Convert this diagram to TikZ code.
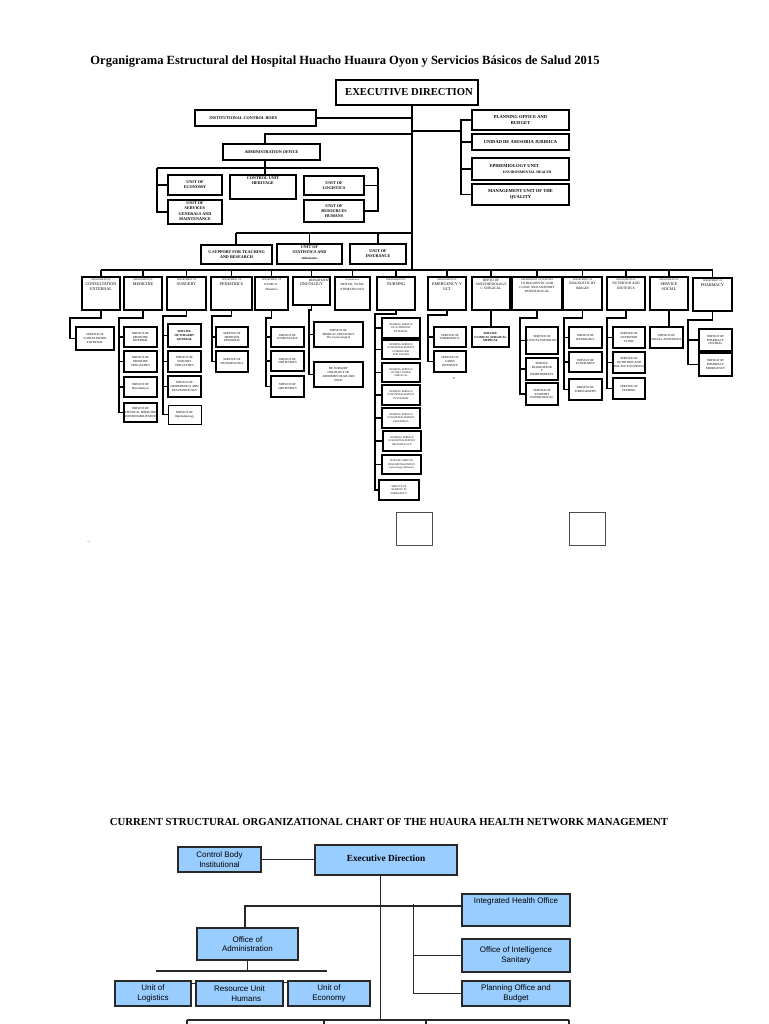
\documentclass[tikz,border=0pt]{standalone}
\usepackage{fontspec}
\setmainfont{Liberation Serif}
\newfontfamily\arialf{Liberation Sans}
\newcommand\fsz[2]{\fontsize{#1pt}{#2pt}\selectfont}
\definecolor{bluefill}{RGB}{153,204,255}
\definecolor{bline}{RGB}{40,40,40}
\tikzset{
  box/.style={draw=black, line width=0.95pt, inner sep=0pt},
  ebox/.style={draw=black!70, line width=0.6pt, inner sep=0pt},
  bbox/.style={draw=bline, line width=0.8pt, fill=bluefill, inner sep=0pt},
  lbl/.style={align=center, inner sep=0pt, font=\fsz{2.3}{2.8}},
  lbltop/.style={anchor=north, yshift=\bh*0.5pt-1.3pt},
  fA/.style={font=\bfseries\fsz{3.1}{3.9}},
  fR/.style={font=\bfseries\fsz{3.4}{4.4}},
  fD/.style={font=\fsz{3.1}{3.6}, lbltop},
  fS/.style={font=\fsz{2.3}{2.8}},
  fN/.style={font=\fsz{2.0}{2.5}},
  fB/.style={font=\arialf\fsz{6}{7.2}},
  con/.style={draw=black, line width=0.95pt},
  con2/.style={draw=bline, line width=0.8pt},
}
% [label opts]{box style}{name}{x1}{y1}{x2}{y2}{text}
\newcommand\bx[8][]{%
  \pgfmathsetmacro\bw{(#6-#4)*0.75}%
  \pgfmathsetmacro\bh{(#7-#5)*0.75}%
  \node[#2,minimum width=\bw pt,minimum height=\bh pt] (#3) at ({(#4+#6)/2},{(#5+#7)/2}) {};%
  \node[lbl,#1] (#3-t) at (#3.center) {#8};}
\newcommand\dep{{\fsz{1.8}{2.4}DEPARTMENT OF}}
\begin{document}
\begin{tikzpicture}[x=0.75pt,y=-0.75pt]
\fill[white] (0,0) rectangle (768,1024);
\useasboundingbox (0,0) rectangle (768,1024);

% ================= TOP CHART =================
\node[font=\bfseries\fsz{9.4}{11}, inner sep=0pt] (title1) at (345,62) {Organigrama Estructural del Hospital Huacho Huaura Oyon y Servicios Básicos de Salud 2015};

\bx[font=\bfseries\fsz{8}{9}, xshift=1.5pt]{box,line width=1.6pt}{exec}{336}{80}{478}{105}{EXECUTIVE DIRECTION}

\coordinate (T) at (412,270);
\draw[con] (exec.south -| T) -- (T);

\bx[fA, xshift=-9pt]{box}{icb}{195}{110}{316}{126}{INSTITUTIONAL CONTROL BODY}
\draw[con] (icb.east) -- (icb.east -| T);

% right group
\bx[fR]{box}{plan}{472}{110}{569}{130}{PLANNING OFFICE AND\\BUDGET}
\bx[fR]{box}{juri}{472}{134}{569}{150}{UNIDAD DE ASESORIA JURIDICA}
\bx[fR, align=left]{box}{epi}{472}{158}{569}{180}{EPIDEMIOLOGY UNIT\\\hspace*{10pt}{\fsz{2.7}{3.4}ENVIRONMENTAL HEALTH}}
\bx[fR]{box}{mgmt}{472}{184}{569}{205}{MANAGEMENT UNIT OF THE\\QUALITY}
\coordinate (R) at (461,131);
\draw[con] (R -| T) -- (R);
\draw[con] (plan.west) -- (plan.west -| R) -- (mgmt.west -| R) -- (mgmt.west);
\draw[con] (juri.west) -- (juri.west -| R);
\draw[con] (epi.west) -- (epi.west -| R);

% administration
\bx[fA]{box}{adm}{223}{144}{320}{160}{ADMINISTRATION OFFICE}
\coordinate (A) at (265,134);
\draw[con] (A -| T) -- (A) -- (A |- adm.north);
\bx[fA]{box}{econ}{168}{175}{222}{195}{UNIT OF\\ECONOMY}
\bx[fA, lbltop]{box}{cuh}{230}{175}{296}{199}{CONTROL UNIT\\HERITAGE}
\bx[fA]{box}{log}{304}{176}{364}{195}{UNIT OF\\LOGISTICS}
\bx[fA, lbltop]{box}{ugen}{168}{200}{222}{224}{UNIT OF\\SERVICES\\GENERALS AND\\MAINTENANCE}
\bx[fA]{box}{rhum}{304}{200}{364}{222}{UNIT OF\\RESOURCES\\HUMANS}
\coordinate (B1) at (157,168);
\coordinate (B2) at (378,168);
\draw[con] (B1) -- (B2);
\draw[con] (A |- adm.south) -- (A |- cuh.north);
\draw[con] (B1) |- (ugen.west);
\draw[con] (econ.west) -- (econ.west -| B1);
\draw[con] (B2) |- (rhum.east);
\draw[con] (log.east) -- (log.east -| B2);

% support units
\bx[fA]{box}{sup}{201}{245}{272}{264}{U.SUPPORT FOR TEACHING\\AND RESEARCH}
\bx[fA, lbltop]{box}{stat}{277}{244}{342}{264}{UNIT OF\\STATISTICS AND\\{\fsz{2.4}{2.8}Informatics}}
\bx[fA]{box}{ins}{350}{244}{406}{264}{UNIT OF\\INSURANCE}
\coordinate (S) at (236,233);
\draw[con] (S) -- (S -| T);
\draw[con] (S) -- (S |- sup.north);
\draw[con] (stat.north) -- (stat.north |- S);
\draw[con] (ins.north) -- (ins.north |- S);

% departments
\bx[fD]{box}{dcons}{82}{277}{120}{310}{\dep\\CONSULTATION\\EXTERNAL}
\bx[fD]{box}{dmed}{124}{277}{162}{310}{\dep\\MEDICINE}
\bx[fD]{box}{dsurg}{167}{277}{206}{310}{\dep\\SURGERY}
\bx[fD]{box}{dped}{211}{277}{252}{310}{\dep\\PEDIATRICS}
\bx[fD]{box}{dgyn}{255}{277}{288}{310}{\dep\\{\fsz{2.3}{2.8}GYNECO -}\\{\fsz{2.3}{2.8}Obstetrics}}
\bx[fD]{box}{donc}{293}{277}{330}{305}{{\fsz{2.4}{2.8}\hspace*{12pt}DEPARTMENT}\\ONCOLOGY}
\bx[fD]{box}{ddent}{335}{277}{370}{310}{{\fsz{1.8}{2.4}Department of}\\{\fsz{2.4}{2.9}DENTAL TOTAL}\\{\fsz{2.4}{2.9}STOMATOLOGY}}
\bx[fD]{box}{dnurs}{377}{277}{415}{310}{\dep\\NURSING}
\bx[fD]{box}{demer}{428}{277}{466}{310}{\dep\\EMERGENCY Y\\UCI}
\bx[fD, font=\fsz{2.6}{3.2}]{box}{danes}{472}{277}{510}{310}{DEPTO OF\\ANESTHESIOLOGY\\C SURGICAL}
\bx[fD, font=\fsz{2.4}{2.9}]{box}{dpath}{512}{277}{562}{310}{{\fsz{1.9}{2.4}DEPARTMENT OF SUPPORT}\\TO DIAGNOSTIC AND\\CLINIC AND ANATOMY\\PATHOLOGICAL}
\bx[fD, font=\fsz{2.6}{3.2}]{box}{dimg}{563}{277}{602}{310}{\dep\\DIAGNOSTIC BY\\IMAGES}
\bx[fD, font=\fsz{2.6}{3.2}]{box}{dnut}{607}{277}{645}{310}{\dep\\NUTRITION AND\\DIETETICS}
\bx[fD]{box}{dsoc}{650}{277}{688}{310}{\dep\\SERVICE\\SOCIAL}
\bx[fD]{box}{dphar}{693}{278}{732}{311}{\dep\\PHARMACY}
\coordinate (D1) at (101,270);
\draw[con] (D1) -- (D1 -| dphar.north);
\foreach \d in {dcons,dmed,dsurg,dped,dgyn,donc,ddent,dnurs,demer,danes,dpath,dimg,dnut,dsoc,dphar}
  \draw[con] (\d.north) -- (\d.north |- D1);

% services: consultation
\bx[fS]{box}{scons}{76}{327}{114}{350}{SERVICE OF\\CONSULTATION\\EXTERNAL}
\coordinate (gc) at (70,318);
\draw[con] (dcons.south) |- (gc) |- (scons.west);
% medicine
\bx[fS]{box}{smed1}{124}{327}{157}{347}{SERVICE OF\\MEDICINE\\INTERNAL}
\bx[fS]{box}{smed2}{124}{351}{157}{372}{SERVICE OF\\MEDICINE\\SPECIALTIES}
\bx[fS]{box}{smed3}{124}{377}{157}{397}{SERVICE OF\\Hemodialysis}
\bx[fS]{box}{smed4}{124}{403}{157}{422}{SERVICE OF\\PHYSICAL MEDICINE\\AND REHABILITATION}
\coordinate (gm) at (119,318);
\draw[con] (dmed.south) |- (gm) |- (smed4.west);
\foreach \s in {smed1,smed2,smed3} \draw[con] (\s.west) -- (\s.west -| gm);
% surgery
\bx[fS, font=\bfseries\fsz{2.3}{2.8}]{box}{ssur1}{168}{324}{201}{347}{SERVICE\\OF SURGERY\\GENERAL}
\bx[fS]{box}{ssur2}{168}{351}{201}{372}{SERVICE OF\\SURGERY\\SPECIALTIES}
\bx[fS]{box}{ssur3}{168}{376}{201}{397}{SERVICE OF\\ORTHOPEDICS AND\\TRAUMATOLOGY}
\bx[fS]{box,line width=0.6pt}{ssur4}{168}{405}{201}{424}{SERVICE OF\\Ophthalmology}
\coordinate (gs) at (163,316);
\draw[con] (dsurg.south) |- (gs) |- (ssur4.west);
\foreach \s in {ssur1,ssur2,ssur3} \draw[con] (\s.west) -- (\s.west -| gs);
% pediatrics
\bx[fS]{box}{sped1}{216}{327}{248}{347}{SERVICE OF\\MEDICINE\\PEDIATRIC}
\bx[fS]{box}{sped2}{216}{351}{248}{372}{SERVICE OF\\NEONATOLOGY}
\coordinate (gp) at (212,316);
\draw[con] (dped.south) |- (gp) |- (sped2.west);
\draw[con] (sped1.west) -- (sped1.west -| gp);
% gyneco
\bx[fS]{box}{sgyn1}{271}{327}{304}{347}{SERVICE OF\\GYNECOLOGY}
\bx[fS]{box}{sgyn2}{271}{351}{304}{371}{SERVICE OF\\OBSTETRICS}
\bx[fS]{box}{sgyn3}{271}{376}{304}{397}{SERVICE OF\\OBSTETRICS}
\coordinate (gg) at (266,318);
\draw[con] (dgyn.south) |- (gg) |- (sgyn3.west);
\foreach \s in {sgyn1,sgyn2} \draw[con] (\s.west) -- (\s.west -| gg);
% oncology
\bx[fS]{box}{sonc1}{314}{322}{363}{347}{SERVICE OF\\MEDICAL ONCOLOGY\\The Gynecological}
\bx[fS]{box}{sonc2}{314}{362}{363}{387}{DE SURGERY\\ONCOLOGY OF\\ABDOMEN HEAD AND\\NECK}
\coordinate (go) at (309,310);
\draw[con] (donc.south) |- (go) |- (sonc2.west);
\draw[con] (sonc1.west) -- (sonc1.west -| go);
% nursing
\bx[fN]{box}{snur1}{382}{318}{420}{338}{NURSING SERVICE\\IN OUTPATIENT\\EXTERNAL}
\bx[fN]{box}{snur2}{382}{340}{420}{359}{NURSING SERVICE\\IN HOSPITALIZATION\\IN MEDICINE\\SPECIALTIES}
\bx[fN]{box}{snur3}{382}{363}{420}{382}{NURSING SERVICE\\IN THE CENTER\\SURGICAL}
\bx[fN]{box}{snur4}{382}{385}{420}{405}{NURSING SERVICE\\IN HOSPITALIZATION\\IN SURGERY}
\bx[fN]{box}{snur5}{382}{408}{420}{428}{NURSING SERVICE\\IN HOSPITALIZATION\\PEDIATRICS}
\bx[fN]{box}{snur6}{383}{431}{421}{451}{NURSING SERVICE\\IN HOSPITALIZATION\\NEONATOLOGY}
\bx[fN]{box}{snur7}{382}{455}{421}{474}{NURSING SERVICE\\IN HOSPITALIZATION\\Gynecology-Obstetrics}
\bx[fN]{box}{snur8}{379}{480}{419}{500}{SERVICE OF\\NURSING IN\\EMERGENCY}
\coordinate (gn) at (375,314);
\draw[con] (dnurs.south) |- (gn) |- (snur8.west);
\foreach \s in {snur1,snur2,snur3,snur4,snur5,snur6,snur7} \draw[con] (\s.west) -- (\s.west -| gn);
% emergency
\bx[fS]{box}{seme1}{434}{327}{466}{347}{SERVICE OF\\EMERGENCY}
\bx[fS]{box}{seme2}{434}{351}{466}{372}{SERVICE OF\\CARES\\INTENSIVE}
\node[lbl] (sS) at (454,378) {S};
\coordinate (ge) at (428,315);
\draw[con] (demer.south) |- (ge) |- (seme2.west);
\draw[con] (seme1.west) -- (seme1.west -| ge);
% anesthesiology
\bx[fS, font=\bfseries\fsz{2.3}{2.8}]{box}{sane}{472}{327}{509}{347}{SERVICE\\CLINICAL SURGICAL\\MEDICAL}
\draw[con] (danes.south) -- (danes.south |- sane.north);
% pathology
\bx[fS]{box}{spat1}{526}{327}{558}{354}{SERVICE OF\\CLINICAL PATHOLOGY\\\ }
\bx[fS]{box}{spat2}{526}{358}{558}{380}{SERVICE\\BLOOD BANK\\Y\\HEMOTHERAPY}
\bx[fS]{box}{spat3}{526}{383}{558}{405}{SERVICE OF\\ANATOMY\\PATHOLOGICAL}
\coordinate (ga) at (520,318);
\draw[con] (dpath.south) |- (ga) |- (spat3.west);
\foreach \s in {spat1,spat2} \draw[con] (\s.west) -- (\s.west -| ga);
% images
\bx[fS]{box}{simg1}{569}{327}{602}{348}{SERVICE OF\\RADIOLOGY}
\bx[fS]{box}{simg2}{569}{352}{602}{372}{SERVICE OF\\ECOGRAPHY}
\bx[fS]{box}{simg3}{569}{379}{602}{400}{SERVICE OF\\TOMOGRAPHY}
\coordinate (gi) at (564,318);
\draw[con] (dimg.south) |- (gi) |- (simg3.west);
\foreach \s in {simg1,simg2} \draw[con] (\s.west) -- (\s.west -| gi);
% nutrition
\bx[fS]{box}{snut1}{613}{327}{645}{348}{SERVICE OF\\NUTRITION\\CLINIC}
\bx[fS]{box}{snut2}{613}{352}{645}{373}{SERVICE OF\\NUTRITION AND\\VIGILANCE NUTRITION}
\bx[fS]{box}{snut3}{613}{378}{645}{399}{SERVICE OF\\FEEDING}
\coordinate (gt) at (607,318);
\draw[con] (dnut.south) |- (gt) |- (snut3.west);
\foreach \s in {snut1,snut2} \draw[con] (\s.west) -- (\s.west -| gt);
% social
\bx[fS]{box}{ssoc}{650}{327}{683}{348}{SERVICE OF\\SOCIAL ASSISTANCE}
\draw[con] (dsoc.south) -- (dsoc.south |- ssoc.north);
% pharmacy
\bx[fS]{box}{sphr1}{699}{329}{732}{351}{SERVICE OF\\PHARMACY\\CENTRAL}
\bx[fS]{box}{sphr2}{699}{353}{732}{376}{SERVICE OF\\PHARMACY\\EMERGENCY}
\coordinate (gf) at (688,320);
\draw[con] (dphar.south) |- (gf) |- (sphr2.west);
\draw[con] (sphr1.west) -- (sphr1.west -| gf);

% empty boxes and dash
\bx{ebox}{emp1}{396}{512}{432}{545}{}
\bx{ebox}{emp2}{569}{512}{605}{545}{}
\node[text=black!50, font=\fsz{5}{6}, inner sep=0pt] (dash) at (89,543) {–};

% ================= BOTTOM CHART =================
\node[font=\bfseries\fsz{8.05}{9.5}, inner sep=0pt] (title2) at (389,822) {CURRENT STRUCTURAL ORGANIZATIONAL CHART OF THE HUAURA HEALTH NETWORK MANAGEMENT};

\bx[fB]{bbox}{cbi}{178}{847}{261}{872}{Control Body\\Institutional}
\bx[font=\bfseries\fsz{7}{8}, yshift=1.5pt]{bbox}{exd}{315}{845}{457}{875}{Executive Direction}
\bx[fB, lbltop, yshift=-1pt]{bbox}{iho}{462}{894}{570}{926}{Integrated Health Office}
\bx[fB]{bbox}{ois}{462}{939}{570}{972}{Office of Intelligence\\Sanitary}
\bx[fB]{bbox}{pob}{462}{981}{570}{1006}{Planning Office and\\Budget}
\bx[fB]{bbox}{oad}{197}{928}{298}{960}{Office of\\Administration}
\bx[fB]{bbox}{ulo}{115}{981}{191}{1006}{Unit of\\Logistics}
\bx[fB]{bbox}{ruh}{196}{981}{283}{1006}{Resource Unit\\\hspace*{10pt}Humans}
\bx[fB]{bbox}{uec}{288}{981}{370}{1006}{Unit of\\Economy}

\draw[con2] (cbi.east) -- (cbi.east -| exd.west);
\coordinate (T2) at (380.4,1020);
\draw[con2] (exd.south -| T2) -- (T2);
\coordinate (H2) at (245,906);
\draw[con2] (H2 |- oad.north) -- (H2) -- (H2 -| iho.west);
\coordinate (V2) at (413.7,904);
\draw[con2] (V2) -- (V2 |- pob.west) -- (pob.west);
\draw[con2] (ois.west) -- (ois.west -| V2);
\coordinate (L1) at (156,971);
\coordinate (L2) at (327,971);
\draw[con2] (L1) -- (L2);
\draw[con2] (oad.south) -- (oad.south |- L1);
\draw[con2] ([yshift=-2.3pt]ulo.north east) -- ([yshift=-2.3pt]ruh.north west);
\draw[con2] ([yshift=-1.6pt]ruh.north east) -- ([yshift=-1.6pt]uec.north west);
\coordinate (P1) at (187,1020);
\coordinate (P2) at (569,1020);
\coordinate (P3) at (324,1020);
\coordinate (P4) at (426,1020);
\draw[con2] (P1) -- (P2);
\foreach \p in {P1,P2,P3,P4} \draw[con2] (\p) -- ++(0,10);
\end{tikzpicture}
\end{document}
